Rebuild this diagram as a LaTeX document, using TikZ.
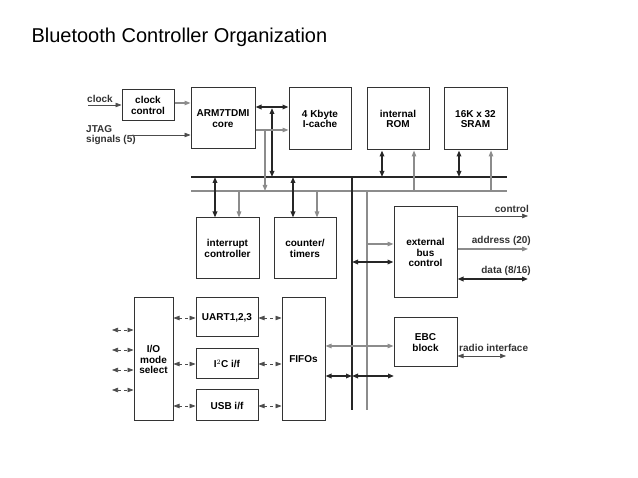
\documentclass[tikz,border=0pt]{standalone}
\usepackage{fontspec}
\setmainfont{Liberation Sans}
\usetikzlibrary{arrows.meta}
\begin{document}
\begin{tikzpicture}[x=1pt,y=-1pt,
  box/.style={draw=black!80,line width=1pt,fill=white,align=center,font=\fontsize{10}{10.5}\selectfont\bfseries,inner sep=1pt},
  dk/.style={line width=2pt,black!85},
  gr/.style={line width=1.2pt,black!45},
  th/.style={line width=0.6pt,black!70},
  tip/.style={-{Triangle[length=6pt,width=4.5pt]}},
  dtip/.style={{Triangle[length=6pt,width=4.5pt]}-{Triangle[length=6pt,width=4.5pt]}},
  lab/.style={font=\fontsize{10}{10.5}\selectfont\bfseries,text=black!80,inner sep=1pt,align=left}]
\useasboundingbox (0,0) rectangle (638,478);
\node[anchor=west,font=\fontsize{20}{22}\selectfont] (title) at (28,37) {Bluetooth Controller Organization};
% boxes
\def\bx#1#2#3#4#5#6{\node[box,minimum width=#4-#2,minimum height=#5-#3] (#1) at ({(#2+#4)/2},{(#3+#5)/2}) {#6};}
\bx{clk}{122}{90}{174}{121}{clock\\control}
\bx{arm}{191}{88}{255}{149}{ARM7TDMI\\core}
\bx{ic}{289}{88}{351}{150}{4 Kbyte\\I-cache}
\bx{rom}{367}{88}{429}{150}{internal\\ROM}
\bx{sram}{444}{88}{507}{150}{16K x 32\\SRAM}
\bx{irq}{196}{218}{259}{279}{interrupt\\controller}
\bx{ctr}{274}{218}{336}{279}{counter/\\timers}
\bx{ebus}{394}{207}{457}{298}{external\\bus\\control}
\bx{io}{134}{298}{173}{421}{I/O\\mode\\select}
\bx{uart}{196}{298}{258}{337}{UART1,2,3}
\bx{iic}{196}{349}{258}{379}{I$^2$C i/f}
\bx{usb}{196}{390}{258}{421}{USB i/f}
\bx{fifo}{282}{298}{325}{421}{FIFOs}
\bx{ebc}{394}{318}{457}{367}{EBC\\block}
% buses
\coordinate (b1l) at (191,177); \coordinate (b1r) at (507,177);
\coordinate (b2l) at (191,191); \coordinate (b2r) at (507,191);
\draw[dk] (b1l) -- (b1r);
\draw[gr] (b2l) -- (b2r);
\coordinate (v1t) at (352,177); \coordinate (v1b) at (352,410);
\coordinate (v2t) at (367,191); \coordinate (v2b) at (367,410);
\draw[dk] (v1t) -- (v1b);
\draw[gr] (v2t) -- (v2b);
% inputs
\node[lab,anchor=south west] (clkl) at (86,104) {clock};
\node[lab,anchor=north west,inner sep=0pt] (jtag) at (86,125) {JTAG\\signals (5)};
\draw[th,tip] (88,105) -- (clk.west|-0,105);
\draw[th,tip] (128,135) -- (arm.west|-0,135);
\draw[gr,tip] (clk.east|-0,103) -- (arm.west|-0,103);
% ARM <-> cache
\draw[dk,dtip] (arm.east|-0,107) -- (ic.west|-0,107);
\draw[dk,dtip] (272,108) -- (272,177);
\draw[gr,tip] (arm.east|-0,130) -- (ic.west|-0,130);
\draw[gr,tip] (265,130) -- (265,191);
% ROM, SRAM
\draw[dk,dtip] (rom.south-|382,0) -- (382,177);
\draw[gr,tip] (414,191) -- (rom.south-|414,0);
\draw[dk,dtip] (sram.south-|459,0) -- (459,177);
\draw[gr,tip] (491,191) -- (sram.south-|491,0);
% irq, counter
\draw[dk,dtip] (215,177) -- (irq.north-|215,0);
\draw[gr,tip] (239,191) -- (irq.north-|239,0);
\draw[dk,dtip] (293,177) -- (ctr.north-|293,0);
\draw[gr,tip] (317,191) -- (ctr.north-|317,0);
% external bus
\draw[gr,tip] (367,244) -- (ebus.west|-0,244);
\draw[dk,dtip] (352,262) -- (ebus.west|-0,262);
\draw[th,tip] (ebus.east|-0,216) -- (528,216);
\node[lab,anchor=south east] (ctl) at (530,214) {control};
\draw[gr,tip] (ebus.east|-0,249) -- (528,249);
\node[lab,anchor=south east] (addr) at (532,247) {address (20)};
\draw[dk,dtip] (ebus.east|-0,279) -- (528,279);
\node[lab,anchor=south east] (data) at (532,277) {data (8/16)};
% EBC
\draw[gr,dtip] (fifo.east|-0,346) -- (ebc.west|-0,346);
\draw[dk,dtip] (fifo.east|-0,376) -- (352,376);
\draw[dk,dtip] (352,376) -- (394,376);
\draw[th,dtip] (ebc.east|-0,356) -- (506,356);
\node[lab,anchor=south west] (radio) at (458,353) {radio interface};
% IO
\foreach \y in {330,350,370,390} \draw[th,dtip,dashed] (112,\y) -- (io.west|-0,\y);
\draw[th,dtip,dashed] (io.east|-0,318) -- (uart.west|-0,318);
\draw[th,dtip,dashed] (io.east|-0,364) -- (iic.west|-0,364);
\draw[th,dtip,dashed] (io.east|-0,406) -- (usb.west|-0,406);
\draw[th,dtip,dashed] (uart.east|-0,318) -- (fifo.west|-0,318);
\draw[th,dtip,dashed] (iic.east|-0,364) -- (fifo.west|-0,364);
\draw[th,dtip,dashed] (usb.east|-0,406) -- (fifo.west|-0,406);
\end{tikzpicture}
\end{document}
